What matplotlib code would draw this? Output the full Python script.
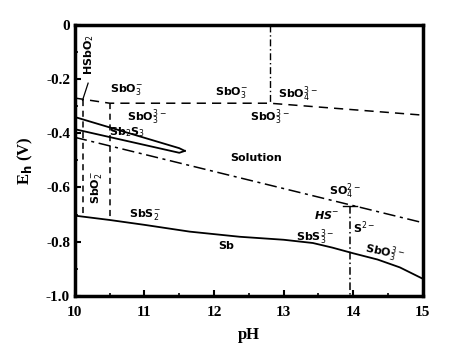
import matplotlib.pyplot as plt

plt.rcParams['font.family'] = ['Liberation Serif', 'DejaVu Serif']

# boundaries (pH, Eh)
sb_ph = [10.0, 10.5, 11.0, 11.65, 12.37, 13.0, 13.42, 13.7, 14.0, 14.35, 14.67, 15.0]
sb_eh = [-0.704, -0.72, -0.738, -0.763, -0.782, -0.793, -0.805, -0.822, -0.843, -0.866, -0.895, -0.937]

sulf_ph = [10.0, 15.0]
sulf_eh = [-0.415, -0.73]

top_ph = [10.0, 10.5, 12.8, 15.0]
top_eh = [-0.27, -0.289, -0.289, -0.333]

sb2s3_up_ph = [10.0, 11.5, 11.58]
sb2s3_up_eh = [-0.34, -0.455, -0.465]
sb2s3_lo_ph = [10.0, 11.5, 11.58]
sb2s3_lo_eh = [-0.385, -0.472, -0.465]

v1_ph, v1_eh = [10.11, 10.11], [-0.278, -0.705]
v2_ph, v2_eh = [10.5, 10.5], [-0.289, -0.72]
v3_ph, v3_eh = [12.8, 12.8], [0.0, -0.289]
v4_ph, v4_eh = [13.95, 13.95], [-0.667, -1.0]

labels = [
    (10.2, -0.11, 'HSbO$_2$', 90, 0),
    (10.75, -0.24, 'SbO$_3^{-}$', 0, 0),
    (11.03, -0.34, 'SbO$_3^{3-}$', 0, 0),
    (10.75, -0.395, 'Sb$_2$S$_3$', 0, 0),
    (12.25, -0.25, 'SbO$_3^{-}$', 0, 0),
    (13.2, -0.255, 'SbO$_4^{3-}$', 0, 0),
    (12.8, -0.34, 'SbO$_3^{3-}$', 0, 0),
    (12.6, -0.49, 'Solution', 0, 0),
    (13.88, -0.615, 'SO$_4^{2-}$', 0, 0),
    (13.62, -0.70, 'HS$^{-}$', 0, 1),
    (14.16, -0.75, 'S$^{2-}$', 0, 0),
    (13.45, -0.785, 'SbS$_3^{3-}$', 0, 0),
    (14.45, -0.84, 'SbO$_3^{3-}$', -12, 0),
    (11.0, -0.70, 'SbS$_2^{-}$', 0, 0),
    (12.18, -0.815, 'Sb', 0, 0),
    (10.31, -0.60, 'SbO$_2^{-}$', 90, 0),
]

fig = plt.figure(figsize=(4.74, 3.56), dpi=100)
ax = fig.add_axes([0.158, 0.169, 0.734, 0.761])

ax.plot(sb_ph, sb_eh, color='black', lw=1.3)
ax.plot(sulf_ph, sulf_eh, color='black', lw=1.1, ls=(0, (8, 3, 2, 3)))
ax.plot(top_ph, top_eh, color='black', lw=1.1, ls=(0, (6, 4)))
ax.plot(sb2s3_up_ph, sb2s3_up_eh, color='black', lw=1.3)
ax.plot(sb2s3_lo_ph, sb2s3_lo_eh, color='black', lw=1.3)
ax.plot(v1_ph, v1_eh, color='black', lw=1.1, ls=(0, (4, 3)))
ax.plot(v2_ph, v2_eh, color='black', lw=1.1, ls=(0, (4, 3)))
ax.plot(v3_ph, v3_eh, color='black', lw=1.0, ls=(0, (5, 2, 1, 2)))
ax.plot(v4_ph, v4_eh, color='black', lw=1.1, ls=(0, (5, 2, 1, 2)))
ax.plot([13.85, 14.05], [-0.667, -0.667], color='black', lw=1.0)
ax.plot([10.19, 10.11], [-0.215, -0.278], color='black', lw=0.9)

for x, y, s, rot, it in labels:
    ax.text(x, y, s, ha='center', va='center', rotation=rot, fontsize=8,
            fontweight='bold', family='DejaVu Sans',
            style='italic' if it else 'normal')

ax.set_xlim(10, 15)
ax.set_ylim(-1.0, 0.0)
ax.set_xticks([10, 11, 12, 13, 14, 15])
ax.set_yticks([0, -0.2, -0.4, -0.6, -0.8, -1.0])
ax.set_yticklabels(['0', '-0.2', '-0.4', '-0.6', '-0.8', '-1.0'])
ax.set_yticks([-0.1, -0.3, -0.5, -0.7, -0.9], minor=True)
ax.set_xticks([10.5, 11.5, 12.5, 13.5, 14.5], minor=True)
ax.tick_params(direction='in', width=1.5, length=4, labelsize=11)
ax.tick_params(axis='x', pad=7)
ax.tick_params(which='minor', direction='in', width=1.2, length=2.5)
for lab in ax.get_xticklabels() + ax.get_yticklabels():
    lab.set_fontweight('bold')
for sp in ax.spines.values():
    sp.set_linewidth(2.5)

ax.set_xlabel('pH', fontsize=12, fontweight='bold', labelpad=6)
ax.set_ylabel('E$_\\mathbf{h}$ (V)', fontsize=12, fontweight='bold', labelpad=8)

plt.savefig('out.png', dpi=100)
